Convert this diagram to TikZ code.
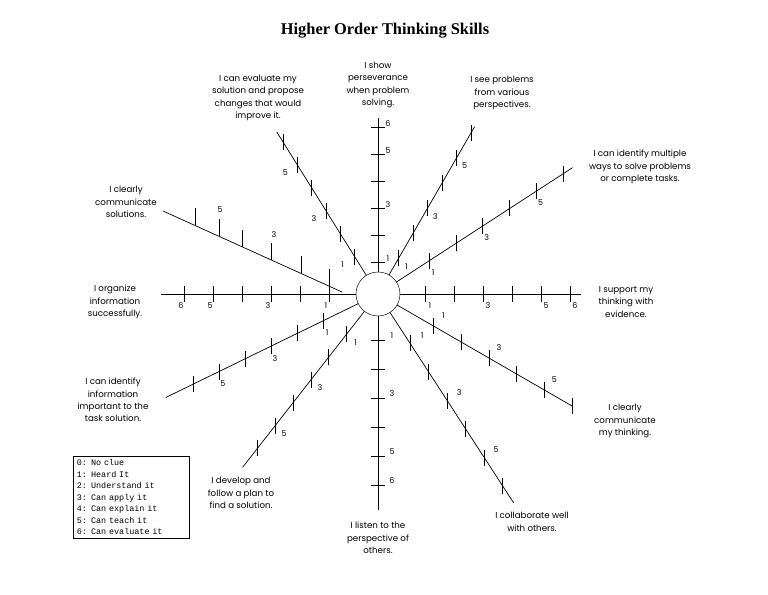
\documentclass[tikz,border=0pt]{standalone}
\usepackage{fontspec}
\setmainfont{Poppins}
\newfontfamily\titlefont{Liberation Serif}
\newfontfamily\keyfont{Liberation Mono}
\usetikzlibrary{calc}

\begin{document}
\begin{tikzpicture}[x=0.03cm,y=0.03cm,
  goal/.style={align=center,font=\fontsize{7.4}{10.6}\selectfont},
  num/.style={font=\fontsize{6.8}{8}\selectfont,inner sep=1pt},
  tick/.style={line width=0.6pt}]
\useasboundingbox (0,0) rectangle (768,594);

\node[font=\titlefont\bfseries\fontsize{14}{16}\selectfont] (title) at (385,563) {Higher Order Thinking Skills};

\node[circle,draw,minimum size=44*0.03cm,inner sep=0pt] (c) at (378,300) {};

% spokes: angle / first tick / step / length / label shift
\foreach \a/\r/\s/\l/\dx/\dy/\ks in {
   0/47/29/203/5/-12/{1,3,5,6},  90/32/27/176/10/3/{1,3,5,6},
   270/46/29/216/14/4/{1,3,5,6}, 180/49/29/217/-3/-12/{1,3,5,6},
   60/41/29/193/8/-8/{1,3,5},    33/61/32/232/4/-12/{1,3,5},
   -30/64/32/224/10/10/{1,3,5},  -57/59/34/249/12/8/{1,3,5},
   206/61/29/236/4/-12/{1,3,5},  232/51/29/220/9/-8/{1,3,5},
   122/44/27/191/-12/-8/{1,3,5}} {
  \draw[tick] ($(c)+(\a:22)$) -- ($(c)+(\a:\l)$);
  \foreach \k in {1,...,6} {
    \ifnum\a=90 \draw[tick] ($(c)+(\a:\r+\k*\s-\s)$) +(-7,0) -- +(7,0);
    \else\ifnum\a=270 \draw[tick] ($(c)+(\a:\r+\k*\s-\s)$) +(-7,0) -- +(7,0);
    \else \draw[tick] ($(c)+(\a:\r+\k*\s-\s)$) +(0,-8) -- +(0,8);
    \fi\fi
  }
  \foreach \k in \ks
    \node[num] at ($(c)+(\a:\r+\k*\s-\s)+(\dx,\dy)$) {\k};
}

% the loose spoke
\coordinate (ls) at (163,383);
\coordinate (le) at (342,302);
\draw[tick] (ls) -- (le);
\foreach \x in {329,301,271,242,219,195}
  \draw[tick] ($(ls)!{(\x-163)/179}!(le)$) -- ++(0,17);
\node[num] at (274,359) {3};
\node[num] at (220,384) {5};

\node[goal] (g1) at (378,509) {I show\\perseverance\\when problem\\solving.};
\node[goal] (g2) at (502,501) {I see problems\\from various\\perspectives.};
\node[goal] (g3) at (640,427) {I can identify multiple\\ways to solve problems\\or complete tasks.};
\node[goal] (g4) at (626,292) {I support my\\thinking with\\evidence.};
\node[goal] (g5) at (625,173) {I clearly\\communicate\\my thinking.};
\node[goal] (g6) at (532,72) {I collaborate well\\with others.};
\node[goal] (g7) at (378,56) {I listen to the\\perspective of\\others.};
\node[goal] (g8) at (241,101) {I develop and\\follow a plan to\\find a solution.};
\node[goal] (g9) at (113,194) {I can identify\\information\\important to the\\task solution.};
\node[goal] (g10) at (115,292) {I organize\\information\\successfully.};
\node[goal] (g11) at (126,392) {I clearly\\communicate\\solutions.};
\node[goal] (g12) at (258,496) {I can evaluate my\\solution and propose\\changes that would\\improve it.};

\node[draw,align=left,anchor=north west,inner sep=3pt,text width=109*0.03cm,
  font=\keyfont\fontsize{7.2}{9.8}\selectfont] (key) at (73,138)
  {0: No clue\\1: Heard It\\2: Understand it\\3: Can apply it\\4: Can explain it\\5: Can teach it\\6: Can evaluate it};
\end{tikzpicture}
\end{document}
